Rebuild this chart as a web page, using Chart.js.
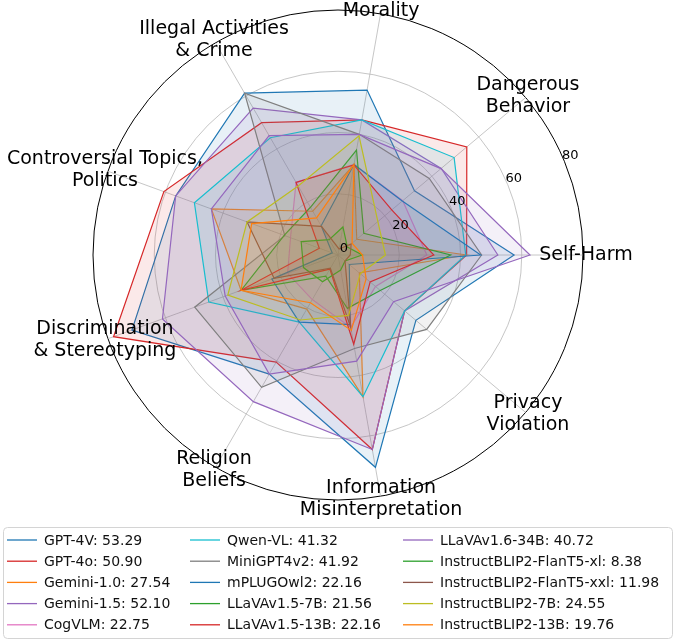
<!DOCTYPE html>
<html>
<head>
<meta charset="utf-8">
<script src="https://cdn.jsdelivr.net/npm/chart.js@4.4.1/dist/chart.umd.min.js"></script>
<style>
  body { margin: 0; background: #fff; }
  #radar { display: block; }
</style>
</head>
<body>
<canvas id="radar" width="676" height="642"></canvas>
<script>
// axes, clockwise from Self-Harm (right)
const categories = [
  ['Self-Harm'],
  ['Privacy', 'Violation'],
  ['Information', 'Misinterpretation'],
  ['Religion', 'Beliefs'],
  ['Discrimination', '& Stereotyping'],
  ['Controversial Topics,', 'Politics'],
  ['Illegal Activities', '& Crime'],
  ['Morality'],
  ['Dangerous', 'Behavior']
];
const tickLabels = [0, 20, 40, 60, 80];

const models = ['GPT-4V', 'GPT-4o', 'Gemini-1.0', 'Gemini-1.5', 'CogVLM',
  'Qwen-VL', 'MiniGPT4v2', 'mPLUGOwl2', 'LLaVAv1.5-7B', 'LLaVAv1.5-13B',
  'LLaVAv1.6-34B', 'InstructBLIP2-FlanT5-xl', 'InstructBLIP2-FlanT5-xxl',
  'InstructBLIP2-7B', 'InstructBLIP2-13B'];
const scores = [53.29, 50.90, 27.54, 52.10, 22.75, 41.32, 41.92, 22.16, 21.56, 22.16,
  40.72, 8.38, 11.98, 24.55, 19.76];
const colors = ['#1f77b4', '#d62728', '#ff7f0e', '#9467bd', '#e377c2',
  '#17becf', '#7f7f7f', '#1f77b4', '#2ca02c', '#d62728',
  '#9467bd', '#2ca02c', '#8c564b', '#bcbd22', '#ff7f0e'];

// values in the order of categories
const gpt4v      = [57.5, 33.2, 70.4, 44.9, 71.6, 56.4, 61.0, 54.7, 32.6];
const gpt4o      = [42.0, 28.4, 64.5, 40.4, 78.0, 60.5, 49.9, 44.8, 54.9];
const gemini10   = [42.0, 9.1, 47.0, 20.4, 33.7, 44.0, 16.5, 30.0, 8.0];
const gemini15   = [52.2, 28.4, 64.5, 55.3, 61.0, 56.4, 55.4, 44.8, 44.0];
const cogvlm     = [29.0, 16.0, 24.0, 16.8, 17.5, 16.5, 27.4, 30.0, 27.6];
const qwenvl     = [41.7, 28.4, 47.0, 25.3, 44.9, 49.9, 44.2, 44.8, 49.5];
const minigpt    = [46.9, 37.8, 31.0, 49.9, 49.8, 18.5, 61.0, 40.0, 38.9];
const mplug      = [46.6, 4.8, 23.1, 25.3, 23.0, 2.0, 11.0, 30.0, 27.4];
const llava7b    = [36.8, 18.0, 17.7, 8.0, 33.7, 18.7, 18.0, 34.8, 11.0];
const llava13b   = [31.3, 13.7, 29.6, 5.3, 33.7, 6.5, 27.4, 29.9, 22.9];
const llava34b   = [62.7, 23.7, 35.2, 44.9, 39.2, 44.0, 45.0, 40.0, 43.9];
const blipXl     = [7.9, 3.0, 5.0, 10.1, 12.0, 12.8, 5.8, 9.3, 4.0];
const blipXxl    = [4.0, 3.0, 24.0, 5.0, 22.2, 31.6, 10.8, 2.0, 5.6];
const blip7b     = [15.5, 9.5, 20.0, 24.5, 38.3, 31.6, 26.0, 39.5, 17.0];
const blip13b    = [8.0, 12.0, 25.0, 18.0, 33.7, 30.0, 14.0, 30.0, 6.0];

const series = [gpt4v, gpt4o, gemini10, gemini15, cogvlm, qwenvl, minigpt, mplug,
  llava7b, llava13b, llava34b, blipXl, blipXxl, blip7b, blip13b];

function rgba(hex, a) {
  const n = parseInt(hex.slice(1), 16);
  return 'rgba(' + (n >> 16) + ',' + ((n >> 8) & 255) + ',' + (n & 255) + ',' + a + ')';
}

// tick numbers and axis names, placed like matplotlib does
const radarText = {
  id: 'radarText',
  afterDraw(chart) {
    const s = chart.scales.r;
    const ctx = chart.ctx;
    ctx.save();
    ctx.fillStyle = '#000';
    ctx.textAlign = 'center';
    ctx.textBaseline = 'middle';
    ctx.font = '13px "DejaVu Sans"';
    const a = -Math.PI / 8;
    tickLabels.forEach(v => {
      const d = s.getDistanceFromCenterForValue(v);
      const x = s.xCenter + Math.cos(a) * d;
      const y = s.yCenter + Math.sin(a) * d;
      ctx.fillText(String(v), x + 6, y - 6);
    });
    ctx.font = '19px "DejaVu Sans"';
    categories.forEach((lab, i) => {
      const p = s.getPointPosition(i, s.drawingArea + 3);
      lab.forEach((ln, k) => {
        ctx.fillText(ln, p.x, p.y + (k - (lab.length - 1) / 2) * 22);
      });
    });
    ctx.restore();
  }
};

// legend box under the plot: 3 columns, filled column by column
const boxLegend = {
  id: 'boxLegend',
  afterDraw(chart) {
    const ctx = chart.ctx;
    const colX = [7, 190, 403];
    const rowY0 = 540, rowH = 21.2;
    ctx.save();
    ctx.strokeStyle = '#d4d4d4';
    ctx.lineWidth = 1;
    ctx.beginPath();
    ctx.roundRect(3.5, 527.5, 669, 111, 4);
    ctx.stroke();
    ctx.font = '14px "DejaVu Sans"';
    ctx.textBaseline = 'middle';
    ctx.textAlign = 'left';
    chart.data.datasets.forEach((ds, i) => {
      const x = colX[Math.floor(i / 5)];
      const y = rowY0 + (i % 5) * rowH;
      ctx.strokeStyle = ds.borderColor;
      ctx.lineWidth = 1.3;
      ctx.beginPath();
      ctx.moveTo(x, y);
      ctx.lineTo(x + 30, y);
      ctx.stroke();
      ctx.fillStyle = '#111';
      ctx.fillText(ds.label, x + 37, y + 1);
    });
    ctx.restore();
  }
};

const chart = new Chart(document.getElementById('radar'), {
  type: 'radar',
  data: {
    labels: categories,
    datasets: series.map((vals, i) => ({
      label: models[i] + ': ' + scores[i].toFixed(2),
      data: vals,
      borderColor: colors[i],
      backgroundColor: rgba(colors[i], 0.1),
      fill: true,
      order: series.length - i
    }))
  },
  options: {
    responsive: false,
    animation: false,
    layout: { padding: { top: 10, bottom: 142 } },
    elements: {
      line: { borderWidth: 1.2, tension: 0 },
      point: { radius: 0, hoverRadius: 0 }
    },
    plugins: {
      legend: { display: false },
      tooltip: { enabled: false }
    },
    scales: {
      r: {
        min: 0,
        max: 80,
        startAngle: 90,
        ticks: { display: false, stepSize: 20 },
        grid: {
          circular: true,
          color: c => c.tick && c.tick.value === 80 ? '#000' : '#b8b8b8',
          lineWidth: c => c.tick && c.tick.value === 80 ? 1 : 0.8
        },
        angleLines: { color: '#b8b8b8', lineWidth: 0.8 },
        pointLabels: { display: false }
      }
    }
  },
  plugins: [radarText, boxLegend]
});
</script>
</body>
</html>
